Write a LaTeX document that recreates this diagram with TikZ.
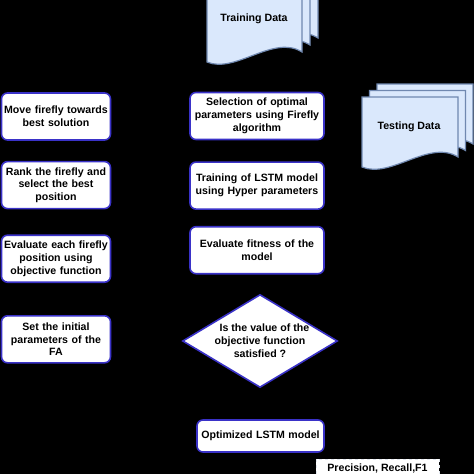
\documentclass[tikz,border=0pt]{standalone}
\usepackage{fontspec}
\setmainfont{Liberation Sans}
\usetikzlibrary{positioning,shapes.geometric}
\definecolor{boxline}{HTML}{3A32C8}
\definecolor{docfill}{HTML}{DAE8FC}
\definecolor{docline}{HTML}{7088B0}

% one sheet of a stacked document: x, y (top left), width, height
\newcommand{\docsheet}[4]{%
  \pgfmathsetmacro{\sheetr}{#1+#3}
  \pgfmathsetmacro{\sheetb}{#2+#4}
  \draw[docsheet] (#1,#2) -- (\sheetr,#2) -- (\sheetr,\sheetb-10)
    .. controls (#1+0.7*#3,\sheetb-28) and (#1+0.3*#3,\sheetb+12) .. (#1,\sheetb) -- cycle;
}

\begin{document}
\begin{tikzpicture}[x=1pt, y=-1pt, node distance=20pt and 20pt,
    every node/.style={font=\fontsize{10.6}{12.8}\selectfont\bfseries, align=center, inner sep=1pt},
    procbox/.style={draw=boxline, line width=1.6pt, rounded corners=6pt, fill=white,
      minimum width=108pt, minimum height=47pt, text width=107pt},
    midbox/.style={procbox, minimum width=134pt, text width=132pt},
    decision/.style={draw=boxline, line width=1.6pt, fill=white, diamond, aspect=1.67,
      inner sep=0pt, minimum width=155pt, minimum height=93pt},
    docsheet/.style={draw=docline, line width=1.2pt, fill=docfill},
    metricbox/.style={draw=white!80!docline, dashed, line width=0.8pt, fill=white,
      minimum width=123pt, minimum height=18pt, anchor=north}]
\fill[black] (0,0) rectangle (474,474);
\clip (0,0) rectangle (474,474);
% Input data
\docsheet{223}{-44}{95}{92}
\docsheet{215}{-37}{95}{92}
\docsheet{207}{-30}{95}{92}
\node (trainingdata) at (254,19) {Training Data};
\docsheet{377}{84}{96}{70}
\docsheet{369.5}{90.5}{96}{70}
\docsheet{362}{97}{96}{70}
\node (testingdata) at (409,127) {Testing Data};
% Left column: firefly steps
\node[procbox] (move) at (56,116.5) {Move firefly towards\\best solution};
\node[procbox, below=20pt of move] (rank) {Rank the firefly and\\select the best\\position};
\node[procbox, below=25pt of rank] (evalfly) {Evaluate each firefly\\position using\\objective function};
\node[procbox, below=32pt of evalfly] (initfa) {Set the initial\\parameters of the\\FA};
% Middle column: LSTM steps
\node[midbox] (select) at (257,116) {Selection of optimal\\parameters using Firefly\\algorithm};
\node[midbox, below=21pt of select] (train) {Training of LSTM model\\using Hyper parameters};
\node[midbox, below=16pt of train] (fitness) {Evaluate fitness of the\\model};
\node[decision] (check) at (260,341) {};
\node (checktext) at (check.center) {\ \ \ Is the value of the\\objective function\\satisfied ?};
\node[midbox, minimum width=127pt, minimum height=32pt, text width=125pt] (optimized) at (260.5,436) {Optimized LSTM model};
\node[metricbox] (metrics) at (377.5,459) {Precision, Recall,F1};
\end{tikzpicture}
\end{document}
